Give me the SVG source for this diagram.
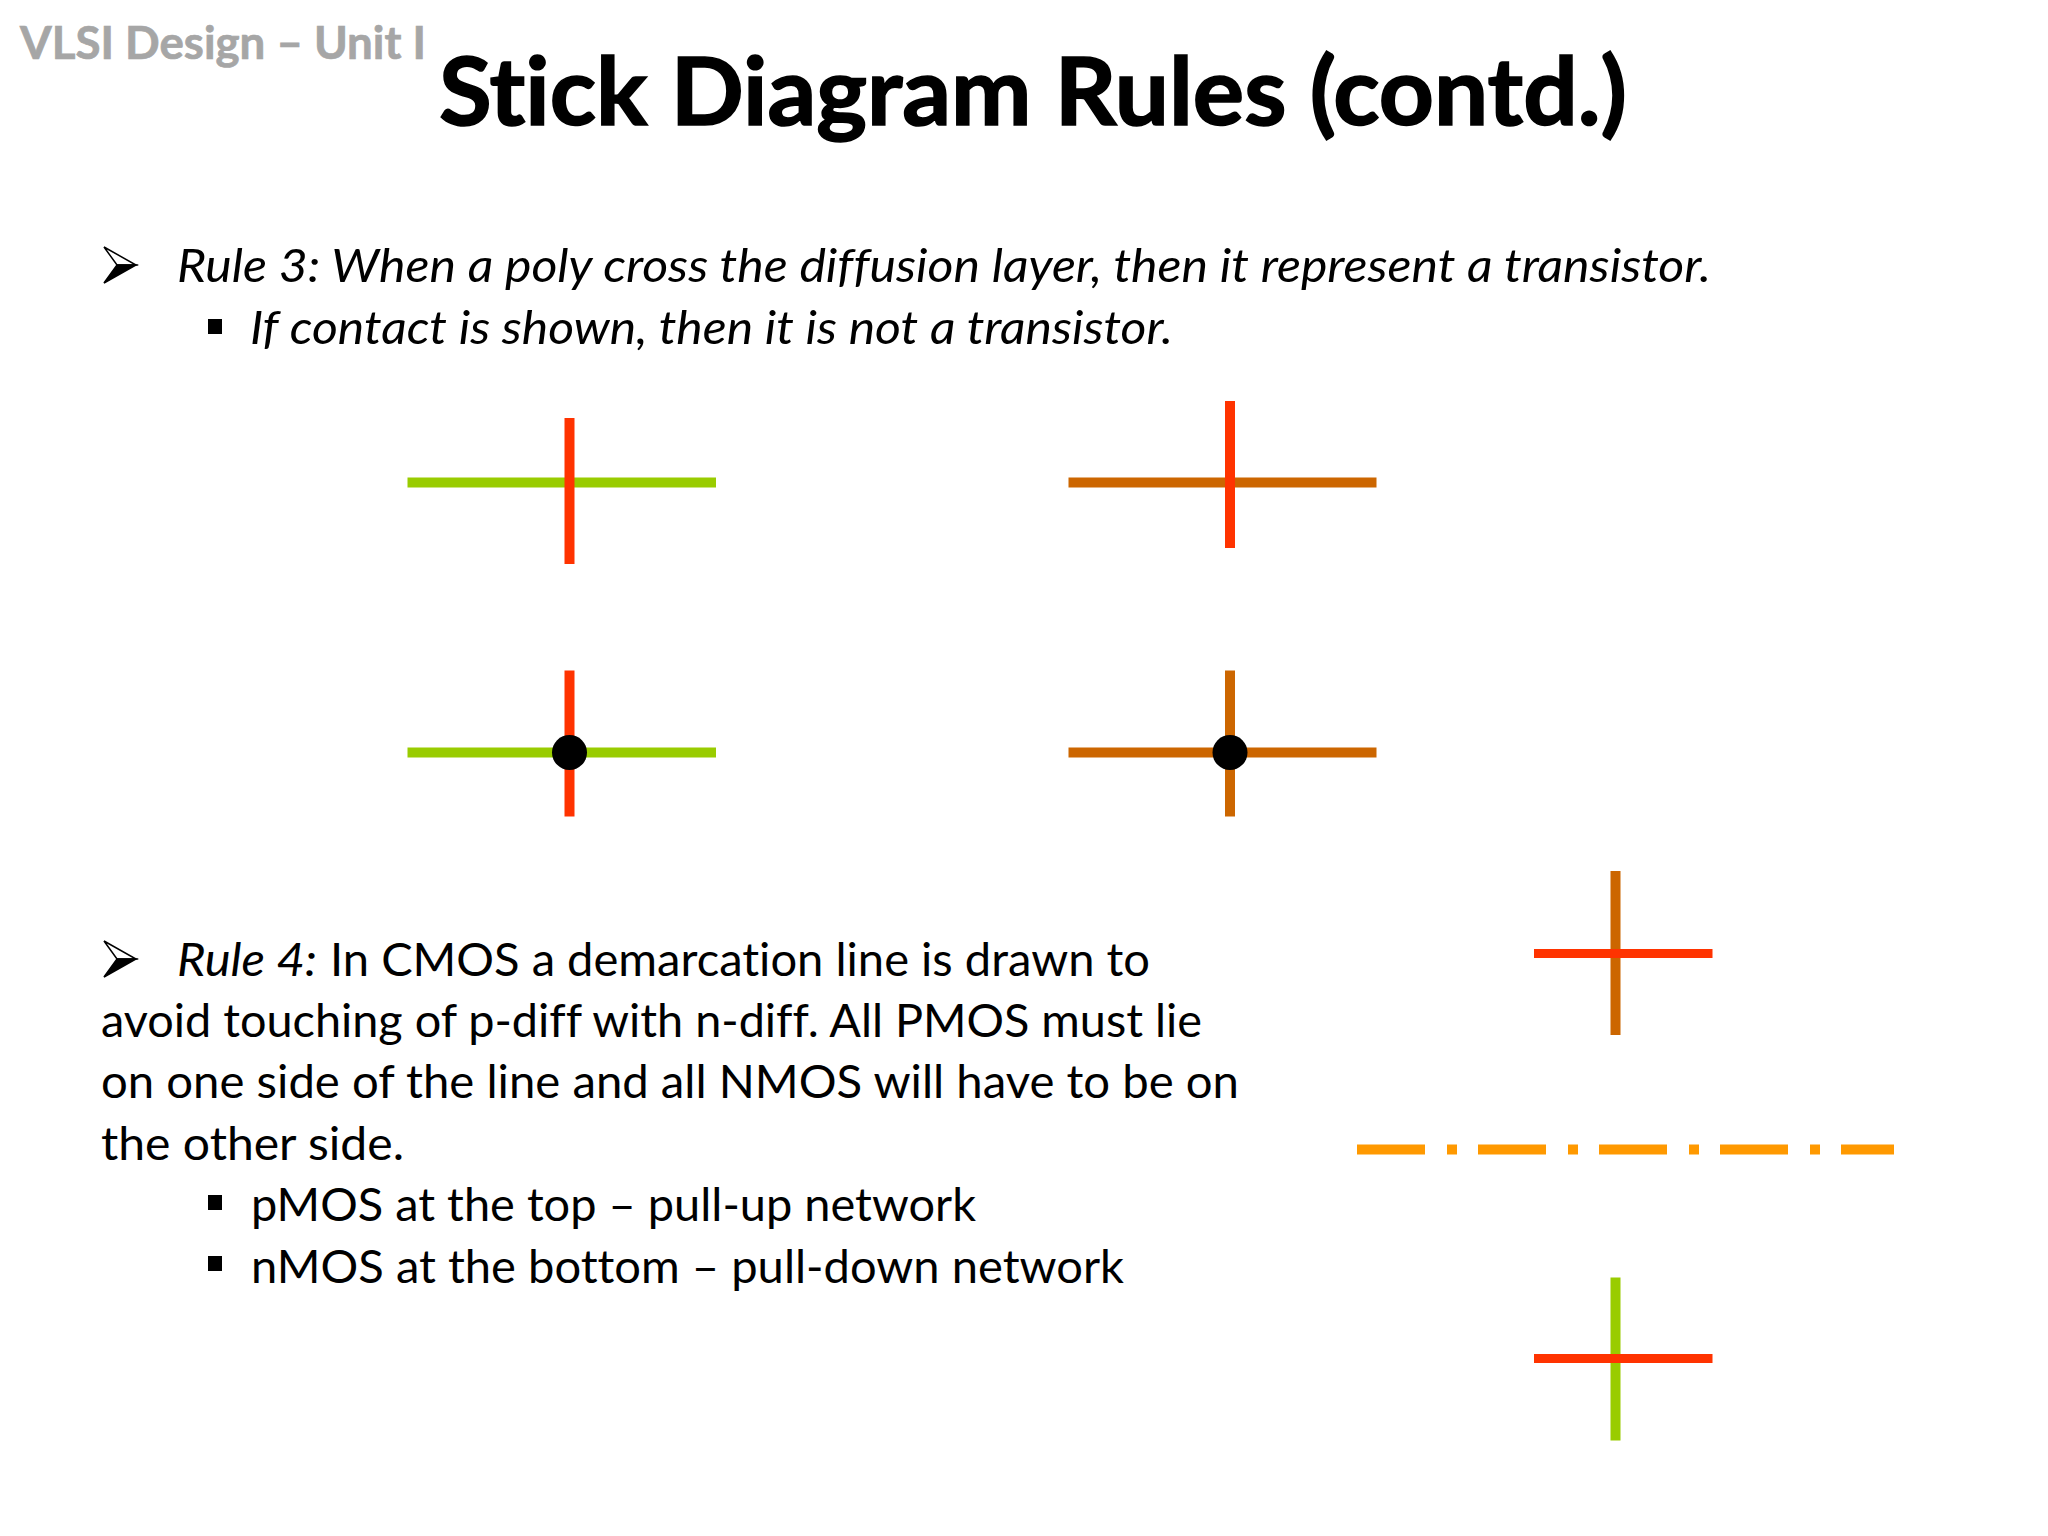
<svg xmlns="http://www.w3.org/2000/svg" width="2048" height="1536" viewBox="0 0 2048 1536">
<style>
text{font-family:"Lato","Carlito","Liberation Sans",sans-serif;fill:#000;font-size:47px;font-variant-ligatures:none}
.i{font-style:italic}
.hdr{font-weight:700;font-size:46px;fill:#a6a6a6;stroke:#a6a6a6;stroke-width:.7}
.ttl{font-weight:700;font-size:94px;stroke:#000;stroke-width:1.6}
.g{stroke:#99cc00;fill:none}
.b{stroke:#cc6600;fill:none}
.r{stroke:#ff3300;fill:none}
.w8{stroke-width:9}
.w10{stroke-width:10}
.wh{stroke-width:10}
.dem{stroke:#ff9900;stroke-width:10;stroke-dasharray:68 22 10 21;fill:none}
</style>
<defs>
<g id="arrow">
<path d="M0 0L32 18L13 18Z" fill="#fff" stroke="#000" stroke-width="1.5"/>
<path d="M0 36L32 18L13 18Z" fill="#000" stroke="#000" stroke-width="1.5"/>
</g>
</defs>
<rect width="2048" height="1536" fill="#fff"/>
<g id="header"><text class="hdr" x="20" y="59" textLength="406" lengthAdjust="spacingAndGlyphs">VLSI Design – Unit I</text></g>
<g id="title"><text class="ttl" x="439" y="125" textLength="1188" lengthAdjust="spacingAndGlyphs">Stick Diagram Rules (contd.)</text></g>
<g id="rule3">
<use href="#arrow" x="104" y="247"/>
<text class="i" x="177" y="282" textLength="1534" lengthAdjust="spacingAndGlyphs">Rule 3: When a poly cross the diffusion layer, then it represent a transistor.</text>
<rect x="208" y="319" width="14" height="15"/>
<text class="i" x="250" y="343.5" textLength="923" lengthAdjust="spacingAndGlyphs">If contact is shown, then it is not a transistor.</text>
</g>
<g id="rule4">
<use href="#arrow" x="104" y="941"/>
<text class="i" x="177" y="975.5" textLength="140" lengthAdjust="spacingAndGlyphs">Rule 4:</text>
<text x="330" y="975.5" textLength="820" lengthAdjust="spacingAndGlyphs">In CMOS a demarcation line is drawn to</text>
<text x="101" y="1037" textLength="1101" lengthAdjust="spacingAndGlyphs">avoid touching of p-diff with n-diff. All PMOS must lie</text>
<text x="101" y="1098" textLength="1138" lengthAdjust="spacingAndGlyphs">on one side of the line and all NMOS will have to be on</text>
<text x="101" y="1160" textLength="303" lengthAdjust="spacingAndGlyphs">the other side.</text>
<rect x="208" y="1195" width="14" height="15"/>
<text x="251" y="1221" textLength="725" lengthAdjust="spacingAndGlyphs">pMOS at the top – pull-up network</text>
<rect x="208" y="1256" width="14" height="15"/>
<text x="251" y="1282.5" textLength="873" lengthAdjust="spacingAndGlyphs">nMOS at the bottom – pull-down network</text>
</g>
<g id="connectors">
<g id="cross-poly-ndiff">
<path class="g wh" d="M407.5 482.5H716"/>
<path class="r w10" d="M569.5 418V564"/>
</g>
<g id="cross-poly-pdiff">
<path class="b wh" d="M1068.5 482.5H1376.5"/>
<path class="r w10" d="M1230 401V548"/>
</g>
<g id="contact-poly-ndiff">
<path class="g wh" d="M407.5 752.5H716"/>
<path class="r w10" d="M569.5 670.5V816.5"/>
<ellipse cx="569.5" cy="752.5" rx="17.5" ry="17.5"/>
</g>
<g id="contact-poly-pdiff">
<path class="b wh" d="M1068.5 752.5H1376.5"/>
<path class="b w10" d="M1230 670.5V816.5"/>
<ellipse cx="1230" cy="752.5" rx="17.5" ry="17.5"/>
</g>
<g id="pmos-cross">
<path class="b w10" d="M1615.5 871V1035"/>
<path class="r w8" d="M1534 953.5H1712.5"/>
</g>
<path id="demarcation" class="dem" d="M1357 1149.5H1894"/>
<g id="nmos-cross">
<path class="g w10" d="M1615.5 1277.5V1440.5"/>
<path class="r w8" d="M1534 1358.5H1712.5"/>
</g>
</g>
</svg>
